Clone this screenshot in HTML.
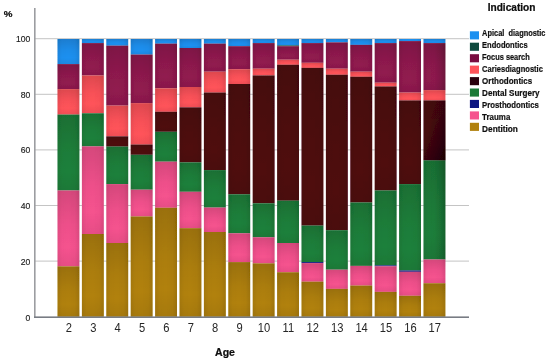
<!DOCTYPE html>
<html lang="en"><head><meta charset="utf-8"><title>Indication by age</title>
<style>
html,body{margin:0;padding:0;background:#fff;}
body{width:550px;height:361px;overflow:hidden;position:relative;font-family:"Liberation Sans",sans-serif;}
svg{position:absolute;left:0;top:0;display:block;}
text{font-family:"Liberation Sans",sans-serif;}
.yt{font-size:8.6px;fill:#1c1c1c;text-anchor:end;stroke:#1c1c1c;stroke-width:0.15px;}
.xt{font-size:12px;fill:#262626;text-anchor:middle;}
.lg{font-size:8.3px;font-weight:bold;fill:#111;stroke:#111;stroke-width:0.2px;}
.ttl{font-size:10.5px;font-weight:bold;fill:#0a0a0a;stroke:#0a0a0a;stroke-width:0.2px;}
</style></head><body>
<svg width="550" height="361" viewBox="0 0 550 361">
<defs>
<linearGradient id="sh" x1="0" y1="0" x2="1" y2="0">
<stop offset="0" stop-color="#000" stop-opacity="0.07"/>
<stop offset="0.2" stop-color="#000" stop-opacity="0.01"/>
<stop offset="0.5" stop-color="#000" stop-opacity="0"/>
<stop offset="0.8" stop-color="#000" stop-opacity="0.02"/>
<stop offset="1" stop-color="#000" stop-opacity="0.10"/>
</linearGradient>
<linearGradient id="sv" x1="0" y1="0" x2="0" y2="1">
<stop offset="0" stop-color="#000" stop-opacity="0.13"/>
<stop offset="0.45" stop-color="#000" stop-opacity="0.03"/>
<stop offset="0.75" stop-color="#000" stop-opacity="0"/>
<stop offset="1" stop-color="#000" stop-opacity="0.06"/>
</linearGradient>
<filter id="bl" x="-2%" y="-2%" width="104%" height="104%"><feGaussianBlur stdDeviation="0.35"/></filter>
<linearGradient id="sl" x1="0" y1="0" x2="1" y2="0">
<stop offset="0" stop-color="#000" stop-opacity="0"/>
<stop offset="0.5" stop-color="#000" stop-opacity="0.03"/>
<stop offset="1" stop-color="#000" stop-opacity="0.16"/>
</linearGradient>
<linearGradient id="sd" x1="0" y1="0" x2="1" y2="1">
<stop offset="0" stop-color="#000" stop-opacity="0"/>
<stop offset="0.35" stop-color="#000" stop-opacity="0.08"/>
<stop offset="1" stop-color="#000" stop-opacity="0.62"/>
</linearGradient>
</defs>
<rect width="550" height="361" fill="#fff"/>
<g filter="url(#bl)">
<rect x="34.5" y="38.2" width="434.5" height="1" fill="#c4c4c4"/>
<rect x="34.5" y="93.8" width="434.5" height="1" fill="#c4c4c4"/>
<rect x="34.5" y="149.4" width="434.5" height="1" fill="#c4c4c4"/>
<rect x="34.5" y="205.0" width="434.5" height="1" fill="#c4c4c4"/>
<rect x="34.5" y="260.6" width="434.5" height="1" fill="#c4c4c4"/>
<rect x="57.50" y="39.0" width="21.9" height="25.1" fill="#1e90f0"/>
<rect x="57.50" y="39.0" width="21.9" height="25.1" fill="url(#sv)"/>
<rect x="57.50" y="64.1" width="21.9" height="25.0" fill="#911a4f"/>
<rect x="57.50" y="64.1" width="21.9" height="25.0" fill="url(#sv)"/>
<rect x="57.50" y="89.1" width="21.9" height="25.5" fill="#ff535a"/>
<rect x="57.50" y="89.1" width="21.9" height="25.5" fill="url(#sv)"/>
<rect x="57.50" y="114.6" width="21.9" height="75.9" fill="#1d803b"/>
<rect x="57.50" y="114.6" width="21.9" height="75.9" fill="url(#sv)"/>
<rect x="57.50" y="190.5" width="21.9" height="75.9" fill="#f5528e"/>
<rect x="57.50" y="190.5" width="21.9" height="75.9" fill="url(#sv)"/>
<rect x="57.50" y="266.4" width="21.9" height="50.4" fill="#b18108"/>
<rect x="57.50" y="266.4" width="21.9" height="50.4" fill="url(#sv)"/>
<rect x="57.50" y="39.0" width="21.9" height="277.8" fill="url(#sh)"/>
<rect x="81.90" y="39.0" width="21.9" height="4.1" fill="#1e90f0"/>
<rect x="81.90" y="39.0" width="21.9" height="4.1" fill="url(#sv)"/>
<rect x="81.90" y="43.1" width="21.9" height="32.4" fill="#911a4f"/>
<rect x="81.90" y="43.1" width="21.9" height="32.4" fill="url(#sv)"/>
<rect x="81.90" y="75.5" width="21.9" height="37.8" fill="#ff535a"/>
<rect x="81.90" y="75.5" width="21.9" height="37.8" fill="url(#sv)"/>
<rect x="81.90" y="113.3" width="21.9" height="33.1" fill="#1d803b"/>
<rect x="81.90" y="113.3" width="21.9" height="33.1" fill="url(#sv)"/>
<rect x="81.90" y="146.4" width="21.9" height="87.6" fill="#f5528e"/>
<rect x="81.90" y="146.4" width="21.9" height="87.6" fill="url(#sv)"/>
<rect x="81.90" y="234.0" width="21.9" height="82.8" fill="#b18108"/>
<rect x="81.90" y="234.0" width="21.9" height="82.8" fill="url(#sv)"/>
<rect x="81.90" y="39.0" width="21.9" height="277.8" fill="url(#sh)"/>
<rect x="106.30" y="39.0" width="21.9" height="6.7" fill="#1e90f0"/>
<rect x="106.30" y="39.0" width="21.9" height="6.7" fill="url(#sv)"/>
<rect x="106.30" y="45.7" width="21.9" height="59.9" fill="#911a4f"/>
<rect x="106.30" y="45.7" width="21.9" height="59.9" fill="url(#sv)"/>
<rect x="106.30" y="105.6" width="21.9" height="30.8" fill="#ff535a"/>
<rect x="106.30" y="105.6" width="21.9" height="30.8" fill="url(#sv)"/>
<rect x="106.30" y="136.4" width="21.9" height="10.2" fill="#4f080e"/>
<rect x="106.30" y="136.4" width="21.9" height="10.2" fill="url(#sv)"/>
<rect x="106.30" y="146.6" width="21.9" height="37.5" fill="#1d803b"/>
<rect x="106.30" y="146.6" width="21.9" height="37.5" fill="url(#sv)"/>
<rect x="106.30" y="184.1" width="21.9" height="58.9" fill="#f5528e"/>
<rect x="106.30" y="184.1" width="21.9" height="58.9" fill="url(#sv)"/>
<rect x="106.30" y="243.0" width="21.9" height="73.8" fill="#b18108"/>
<rect x="106.30" y="243.0" width="21.9" height="73.8" fill="url(#sv)"/>
<rect x="106.30" y="39.0" width="21.9" height="277.8" fill="url(#sh)"/>
<rect x="130.70" y="39.0" width="21.9" height="15.6" fill="#1e90f0"/>
<rect x="130.70" y="39.0" width="21.9" height="15.6" fill="url(#sv)"/>
<rect x="130.70" y="54.6" width="21.9" height="48.5" fill="#911a4f"/>
<rect x="130.70" y="54.6" width="21.9" height="48.5" fill="url(#sv)"/>
<rect x="130.70" y="103.1" width="21.9" height="41.5" fill="#ff535a"/>
<rect x="130.70" y="103.1" width="21.9" height="41.5" fill="url(#sv)"/>
<rect x="130.70" y="144.6" width="21.9" height="10.2" fill="#4f080e"/>
<rect x="130.70" y="144.6" width="21.9" height="10.2" fill="url(#sv)"/>
<rect x="130.70" y="154.8" width="21.9" height="34.9" fill="#1d803b"/>
<rect x="130.70" y="154.8" width="21.9" height="34.9" fill="url(#sv)"/>
<rect x="130.70" y="189.7" width="21.9" height="26.8" fill="#f5528e"/>
<rect x="130.70" y="189.7" width="21.9" height="26.8" fill="url(#sv)"/>
<rect x="130.70" y="216.5" width="21.9" height="100.3" fill="#b18108"/>
<rect x="130.70" y="216.5" width="21.9" height="100.3" fill="url(#sv)"/>
<rect x="130.70" y="39.0" width="21.9" height="277.8" fill="url(#sh)"/>
<rect x="155.10" y="39.0" width="21.9" height="4.7" fill="#1e90f0"/>
<rect x="155.10" y="39.0" width="21.9" height="4.7" fill="url(#sv)"/>
<rect x="155.10" y="43.7" width="21.9" height="44.6" fill="#911a4f"/>
<rect x="155.10" y="43.7" width="21.9" height="44.6" fill="url(#sv)"/>
<rect x="155.10" y="88.3" width="21.9" height="23.5" fill="#ff535a"/>
<rect x="155.10" y="88.3" width="21.9" height="23.5" fill="url(#sv)"/>
<rect x="155.10" y="111.8" width="21.9" height="20.0" fill="#4f080e"/>
<rect x="155.10" y="111.8" width="21.9" height="20.0" fill="url(#sv)"/>
<rect x="155.10" y="131.8" width="21.9" height="29.9" fill="#1d803b"/>
<rect x="155.10" y="131.8" width="21.9" height="29.9" fill="url(#sv)"/>
<rect x="155.10" y="161.7" width="21.9" height="46.1" fill="#f5528e"/>
<rect x="155.10" y="161.7" width="21.9" height="46.1" fill="url(#sv)"/>
<rect x="155.10" y="207.8" width="21.9" height="109.0" fill="#b18108"/>
<rect x="155.10" y="207.8" width="21.9" height="109.0" fill="url(#sv)"/>
<rect x="155.10" y="39.0" width="21.9" height="277.8" fill="url(#sh)"/>
<rect x="179.50" y="39.0" width="21.9" height="9.0" fill="#1e90f0"/>
<rect x="179.50" y="39.0" width="21.9" height="9.0" fill="url(#sv)"/>
<rect x="179.50" y="48.0" width="21.9" height="39.0" fill="#911a4f"/>
<rect x="179.50" y="48.0" width="21.9" height="39.0" fill="url(#sv)"/>
<rect x="179.50" y="87.0" width="21.9" height="20.4" fill="#ff535a"/>
<rect x="179.50" y="87.0" width="21.9" height="20.4" fill="url(#sv)"/>
<rect x="179.50" y="107.4" width="21.9" height="55.0" fill="#4f080e"/>
<rect x="179.50" y="107.4" width="21.9" height="55.0" fill="url(#sv)"/>
<rect x="179.50" y="162.4" width="21.9" height="29.4" fill="#1d803b"/>
<rect x="179.50" y="162.4" width="21.9" height="29.4" fill="url(#sv)"/>
<rect x="179.50" y="191.8" width="21.9" height="36.4" fill="#f5528e"/>
<rect x="179.50" y="191.8" width="21.9" height="36.4" fill="url(#sv)"/>
<rect x="179.50" y="228.2" width="21.9" height="88.6" fill="#b18108"/>
<rect x="179.50" y="228.2" width="21.9" height="88.6" fill="url(#sv)"/>
<rect x="179.50" y="39.0" width="21.9" height="277.8" fill="url(#sh)"/>
<rect x="203.90" y="39.0" width="21.9" height="4.7" fill="#1e90f0"/>
<rect x="203.90" y="39.0" width="21.9" height="4.7" fill="url(#sv)"/>
<rect x="203.90" y="43.7" width="21.9" height="28.0" fill="#911a4f"/>
<rect x="203.90" y="43.7" width="21.9" height="28.0" fill="url(#sv)"/>
<rect x="203.90" y="71.7" width="21.9" height="20.9" fill="#ff535a"/>
<rect x="203.90" y="71.7" width="21.9" height="20.9" fill="url(#sv)"/>
<rect x="203.90" y="92.6" width="21.9" height="77.5" fill="#4f080e"/>
<rect x="203.90" y="92.6" width="21.9" height="77.5" fill="url(#sv)"/>
<rect x="203.90" y="170.1" width="21.9" height="37.5" fill="#1d803b"/>
<rect x="203.90" y="170.1" width="21.9" height="37.5" fill="url(#sv)"/>
<rect x="203.90" y="207.6" width="21.9" height="24.4" fill="#f5528e"/>
<rect x="203.90" y="207.6" width="21.9" height="24.4" fill="url(#sv)"/>
<rect x="203.90" y="232.0" width="21.9" height="84.8" fill="#b18108"/>
<rect x="203.90" y="232.0" width="21.9" height="84.8" fill="url(#sv)"/>
<rect x="203.90" y="39.0" width="21.9" height="277.8" fill="url(#sh)"/>
<rect x="228.30" y="39.0" width="21.9" height="7.2" fill="#1e90f0"/>
<rect x="228.30" y="39.0" width="21.9" height="7.2" fill="url(#sv)"/>
<rect x="228.30" y="46.2" width="21.9" height="23.0" fill="#911a4f"/>
<rect x="228.30" y="46.2" width="21.9" height="23.0" fill="url(#sv)"/>
<rect x="228.30" y="69.2" width="21.9" height="14.8" fill="#ff535a"/>
<rect x="228.30" y="69.2" width="21.9" height="14.8" fill="url(#sv)"/>
<rect x="228.30" y="84.0" width="21.9" height="110.3" fill="#4f080e"/>
<rect x="228.30" y="84.0" width="21.9" height="110.3" fill="url(#sv)"/>
<rect x="228.30" y="194.3" width="21.9" height="39.0" fill="#1d803b"/>
<rect x="228.30" y="194.3" width="21.9" height="39.0" fill="url(#sv)"/>
<rect x="228.30" y="233.3" width="21.9" height="28.8" fill="#f5528e"/>
<rect x="228.30" y="233.3" width="21.9" height="28.8" fill="url(#sv)"/>
<rect x="228.30" y="262.1" width="21.9" height="54.7" fill="#b18108"/>
<rect x="228.30" y="262.1" width="21.9" height="54.7" fill="url(#sv)"/>
<rect x="228.30" y="39.0" width="21.9" height="277.8" fill="url(#sh)"/>
<rect x="252.70" y="39.0" width="21.9" height="4.1" fill="#1e90f0"/>
<rect x="252.70" y="39.0" width="21.9" height="4.1" fill="url(#sv)"/>
<rect x="252.70" y="43.1" width="21.9" height="25.6" fill="#911a4f"/>
<rect x="252.70" y="43.1" width="21.9" height="25.6" fill="url(#sv)"/>
<rect x="252.70" y="68.7" width="21.9" height="6.8" fill="#ff535a"/>
<rect x="252.70" y="68.7" width="21.9" height="6.8" fill="url(#sv)"/>
<rect x="252.70" y="75.5" width="21.9" height="127.8" fill="#4f080e"/>
<rect x="252.70" y="75.5" width="21.9" height="127.8" fill="url(#sv)"/>
<rect x="252.70" y="203.3" width="21.9" height="34.0" fill="#1d803b"/>
<rect x="252.70" y="203.3" width="21.9" height="34.0" fill="url(#sv)"/>
<rect x="252.70" y="237.3" width="21.9" height="26.1" fill="#f5528e"/>
<rect x="252.70" y="237.3" width="21.9" height="26.1" fill="url(#sv)"/>
<rect x="252.70" y="263.4" width="21.9" height="53.4" fill="#b18108"/>
<rect x="252.70" y="263.4" width="21.9" height="53.4" fill="url(#sv)"/>
<rect x="252.70" y="39.0" width="21.9" height="277.8" fill="url(#sh)"/>
<rect x="277.10" y="39.0" width="21.9" height="6.4" fill="#1e90f0"/>
<rect x="277.10" y="39.0" width="21.9" height="6.4" fill="url(#sv)"/>
<rect x="277.10" y="45.4" width="21.9" height="0.8" fill="#0b4d40"/>
<rect x="277.10" y="46.2" width="21.9" height="13.5" fill="#911a4f"/>
<rect x="277.10" y="46.2" width="21.9" height="13.5" fill="url(#sv)"/>
<rect x="277.10" y="59.7" width="21.9" height="5.1" fill="#ff535a"/>
<rect x="277.10" y="59.7" width="21.9" height="5.1" fill="url(#sv)"/>
<rect x="277.10" y="64.8" width="21.9" height="135.9" fill="#4f080e"/>
<rect x="277.10" y="64.8" width="21.9" height="135.9" fill="url(#sv)"/>
<rect x="277.10" y="200.7" width="21.9" height="42.3" fill="#1d803b"/>
<rect x="277.10" y="200.7" width="21.9" height="42.3" fill="url(#sv)"/>
<rect x="277.10" y="243.0" width="21.9" height="29.3" fill="#f5528e"/>
<rect x="277.10" y="243.0" width="21.9" height="29.3" fill="url(#sv)"/>
<rect x="277.10" y="272.3" width="21.9" height="44.5" fill="#b18108"/>
<rect x="277.10" y="272.3" width="21.9" height="44.5" fill="url(#sv)"/>
<rect x="277.10" y="39.0" width="21.9" height="277.8" fill="url(#sh)"/>
<rect x="301.50" y="39.0" width="21.9" height="4.1" fill="#1e90f0"/>
<rect x="301.50" y="39.0" width="21.9" height="4.1" fill="url(#sv)"/>
<rect x="301.50" y="43.1" width="21.9" height="19.7" fill="#911a4f"/>
<rect x="301.50" y="43.1" width="21.9" height="19.7" fill="url(#sv)"/>
<rect x="301.50" y="62.8" width="21.9" height="5.1" fill="#ff535a"/>
<rect x="301.50" y="62.8" width="21.9" height="5.1" fill="url(#sv)"/>
<rect x="301.50" y="67.9" width="21.9" height="157.7" fill="#4f080e"/>
<rect x="301.50" y="67.9" width="21.9" height="157.7" fill="url(#sv)"/>
<rect x="301.50" y="225.6" width="21.9" height="36.5" fill="#1d803b"/>
<rect x="301.50" y="225.6" width="21.9" height="36.5" fill="url(#sv)"/>
<rect x="301.50" y="262.1" width="21.9" height="1.0" fill="#0a1580"/>
<rect x="301.50" y="263.1" width="21.9" height="18.6" fill="#f5528e"/>
<rect x="301.50" y="263.1" width="21.9" height="18.6" fill="url(#sv)"/>
<rect x="301.50" y="281.7" width="21.9" height="35.1" fill="#b18108"/>
<rect x="301.50" y="281.7" width="21.9" height="35.1" fill="url(#sv)"/>
<rect x="301.50" y="39.0" width="21.9" height="277.8" fill="url(#sh)"/>
<rect x="325.90" y="39.0" width="21.9" height="3.4" fill="#1e90f0"/>
<rect x="325.90" y="39.0" width="21.9" height="3.4" fill="url(#sv)"/>
<rect x="325.90" y="42.4" width="21.9" height="26.3" fill="#911a4f"/>
<rect x="325.90" y="42.4" width="21.9" height="26.3" fill="url(#sv)"/>
<rect x="325.90" y="68.7" width="21.9" height="6.1" fill="#ff535a"/>
<rect x="325.90" y="68.7" width="21.9" height="6.1" fill="url(#sv)"/>
<rect x="325.90" y="74.8" width="21.9" height="155.4" fill="#4f080e"/>
<rect x="325.90" y="74.8" width="21.9" height="155.4" fill="url(#sv)"/>
<rect x="325.90" y="230.2" width="21.9" height="39.5" fill="#1d803b"/>
<rect x="325.90" y="230.2" width="21.9" height="39.5" fill="url(#sv)"/>
<rect x="325.90" y="269.7" width="21.9" height="19.2" fill="#f5528e"/>
<rect x="325.90" y="269.7" width="21.9" height="19.2" fill="url(#sv)"/>
<rect x="325.90" y="288.9" width="21.9" height="27.9" fill="#b18108"/>
<rect x="325.90" y="288.9" width="21.9" height="27.9" fill="url(#sv)"/>
<rect x="325.90" y="39.0" width="21.9" height="277.8" fill="url(#sh)"/>
<rect x="350.30" y="39.0" width="21.9" height="5.9" fill="#1e90f0"/>
<rect x="350.30" y="39.0" width="21.9" height="5.9" fill="url(#sv)"/>
<rect x="350.30" y="44.9" width="21.9" height="26.8" fill="#911a4f"/>
<rect x="350.30" y="44.9" width="21.9" height="26.8" fill="url(#sv)"/>
<rect x="350.30" y="71.7" width="21.9" height="5.1" fill="#ff535a"/>
<rect x="350.30" y="71.7" width="21.9" height="5.1" fill="url(#sv)"/>
<rect x="350.30" y="76.8" width="21.9" height="125.7" fill="#4f080e"/>
<rect x="350.30" y="76.8" width="21.9" height="125.7" fill="url(#sv)"/>
<rect x="350.30" y="202.5" width="21.9" height="63.4" fill="#1d803b"/>
<rect x="350.30" y="202.5" width="21.9" height="63.4" fill="url(#sv)"/>
<rect x="350.30" y="265.9" width="21.9" height="19.7" fill="#f5528e"/>
<rect x="350.30" y="265.9" width="21.9" height="19.7" fill="url(#sv)"/>
<rect x="350.30" y="285.6" width="21.9" height="31.2" fill="#b18108"/>
<rect x="350.30" y="285.6" width="21.9" height="31.2" fill="url(#sv)"/>
<rect x="350.30" y="39.0" width="21.9" height="277.8" fill="url(#sh)"/>
<rect x="374.70" y="39.0" width="21.9" height="4.1" fill="#1e90f0"/>
<rect x="374.70" y="39.0" width="21.9" height="4.1" fill="url(#sv)"/>
<rect x="374.70" y="43.1" width="21.9" height="39.6" fill="#911a4f"/>
<rect x="374.70" y="43.1" width="21.9" height="39.6" fill="url(#sv)"/>
<rect x="374.70" y="82.7" width="21.9" height="3.8" fill="#ff535a"/>
<rect x="374.70" y="82.7" width="21.9" height="3.8" fill="url(#sv)"/>
<rect x="374.70" y="86.5" width="21.9" height="104.0" fill="#4f080e"/>
<rect x="374.70" y="86.5" width="21.9" height="104.0" fill="url(#sv)"/>
<rect x="374.70" y="190.5" width="21.9" height="74.9" fill="#1d803b"/>
<rect x="374.70" y="190.5" width="21.9" height="74.9" fill="url(#sv)"/>
<rect x="374.70" y="265.4" width="21.9" height="0.9" fill="#0a1580"/>
<rect x="374.70" y="266.3" width="21.9" height="25.6" fill="#f5528e"/>
<rect x="374.70" y="266.3" width="21.9" height="25.6" fill="url(#sv)"/>
<rect x="374.70" y="291.9" width="21.9" height="24.9" fill="#b18108"/>
<rect x="374.70" y="291.9" width="21.9" height="24.9" fill="url(#sv)"/>
<rect x="374.70" y="39.0" width="21.9" height="277.8" fill="url(#sh)"/>
<rect x="399.10" y="39.0" width="21.9" height="2.1" fill="#1e90f0"/>
<rect x="399.10" y="41.1" width="21.9" height="51.5" fill="#911a4f"/>
<rect x="399.10" y="41.1" width="21.9" height="51.5" fill="url(#sv)"/>
<rect x="399.10" y="92.6" width="21.9" height="7.9" fill="#ff535a"/>
<rect x="399.10" y="92.6" width="21.9" height="7.9" fill="url(#sv)"/>
<rect x="399.10" y="100.5" width="21.9" height="83.6" fill="#4f080e"/>
<rect x="399.10" y="100.5" width="21.9" height="83.6" fill="url(#sv)"/>
<rect x="399.10" y="184.1" width="21.9" height="86.4" fill="#1d803b"/>
<rect x="399.10" y="184.1" width="21.9" height="86.4" fill="url(#sv)"/>
<rect x="399.10" y="270.5" width="21.9" height="1.3" fill="#0a1580"/>
<rect x="399.10" y="271.8" width="21.9" height="24.0" fill="#f5528e"/>
<rect x="399.10" y="271.8" width="21.9" height="24.0" fill="url(#sv)"/>
<rect x="399.10" y="295.8" width="21.9" height="21.0" fill="#b18108"/>
<rect x="399.10" y="295.8" width="21.9" height="21.0" fill="url(#sv)"/>
<rect x="399.10" y="39.0" width="21.9" height="277.8" fill="url(#sh)"/>
<rect x="423.50" y="39.0" width="21.9" height="4.1" fill="#1e90f0"/>
<rect x="423.50" y="39.0" width="21.9" height="4.1" fill="url(#sv)"/>
<rect x="423.50" y="43.1" width="21.9" height="47.0" fill="#911a4f"/>
<rect x="423.50" y="43.1" width="21.9" height="47.0" fill="url(#sv)"/>
<rect x="423.50" y="90.1" width="21.9" height="10.4" fill="#ff535a"/>
<rect x="423.50" y="90.1" width="21.9" height="10.4" fill="url(#sv)"/>
<rect x="423.50" y="100.5" width="21.9" height="59.9" fill="#4f080e"/>
<rect x="423.50" y="100.5" width="21.9" height="59.9" fill="url(#sv)"/>
<rect x="423.50" y="160.4" width="21.9" height="99.1" fill="#1d803b"/>
<rect x="423.50" y="160.4" width="21.9" height="99.1" fill="url(#sv)"/>
<rect x="423.50" y="259.5" width="21.9" height="23.8" fill="#f5528e"/>
<rect x="423.50" y="259.5" width="21.9" height="23.8" fill="url(#sv)"/>
<rect x="423.50" y="283.3" width="21.9" height="33.5" fill="#b18108"/>
<rect x="423.50" y="283.3" width="21.9" height="33.5" fill="url(#sv)"/>
<rect x="423.50" y="39.0" width="21.9" height="277.8" fill="url(#sh)"/>
<rect x="423.50" y="43.1" width="21.9" height="47.0" fill="url(#sl)"/>
<rect x="423.50" y="100.5" width="21.9" height="59.9" fill="url(#sd)"/>
<rect x="423.50" y="160.4" width="21.9" height="99.1" fill="url(#sl)"/>
<rect x="34" y="8" width="1.6" height="310.0" fill="#9c9da1"/>
<rect x="34" y="316.4" width="435" height="1.6" fill="#787c84"/>
<rect x="469.9" y="31.3" width="9.1" height="8.1" fill="#1e90f0"/>
<rect x="469.9" y="42.7" width="9.1" height="8.1" fill="#094a3e"/>
<rect x="469.9" y="54.2" width="9.1" height="8.1" fill="#7a1040"/>
<rect x="469.9" y="65.6" width="9.1" height="8.1" fill="#ff535a"/>
<rect x="469.9" y="77.1" width="9.1" height="8.1" fill="#2c0408"/>
<rect x="469.9" y="88.5" width="9.1" height="8.1" fill="#1b7a38"/>
<rect x="469.9" y="99.9" width="9.1" height="8.1" fill="#0a1580"/>
<rect x="469.9" y="111.4" width="9.1" height="8.1" fill="#f5528e"/>
<rect x="469.9" y="122.8" width="9.1" height="8.1" fill="#b18108"/>
</g>
<g filter="url(#bl)">
<text class="yt" x="30.4" y="42.1">100</text>
<text class="yt" x="30.4" y="97.7">80</text>
<text class="yt" x="30.4" y="153.3">60</text>
<text class="yt" x="30.4" y="208.9">40</text>
<text class="yt" x="30.4" y="264.5">20</text>
<text class="yt" x="30.4" y="320.8">0</text>
<text class="ttl" x="3.8" y="17.3" style="font-size:9.8px">%</text>
<text class="xt" transform="translate(68.9,331.7) scale(0.93,1)">2</text>
<text class="xt" transform="translate(93.3,331.7) scale(0.93,1)">3</text>
<text class="xt" transform="translate(117.7,331.7) scale(0.93,1)">4</text>
<text class="xt" transform="translate(142.0,331.7) scale(0.93,1)">5</text>
<text class="xt" transform="translate(166.4,331.7) scale(0.93,1)">6</text>
<text class="xt" transform="translate(190.8,331.7) scale(0.93,1)">7</text>
<text class="xt" transform="translate(215.2,331.7) scale(0.93,1)">8</text>
<text class="xt" transform="translate(239.6,331.7) scale(0.93,1)">9</text>
<text class="xt" transform="translate(264.0,331.7) scale(0.93,1)">10</text>
<text class="xt" transform="translate(288.4,331.7) scale(0.93,1)">11</text>
<text class="xt" transform="translate(312.8,331.7) scale(0.93,1)">12</text>
<text class="xt" transform="translate(337.2,331.7) scale(0.93,1)">13</text>
<text class="xt" transform="translate(361.6,331.7) scale(0.93,1)">14</text>
<text class="xt" transform="translate(386.0,331.7) scale(0.93,1)">15</text>
<text class="xt" transform="translate(410.4,331.7) scale(0.93,1)">16</text>
<text class="xt" transform="translate(434.8,331.7) scale(0.93,1)">17</text>
<text class="ttl" x="215.1" y="356.0" style="font-size:10px" textLength="19.9" lengthAdjust="spacingAndGlyphs">Age</text>
<text class="ttl" x="487.7" y="10.9" style="font-size:10.2px" textLength="47.8" lengthAdjust="spacingAndGlyphs">Indication</text>
<text class="lg" x="482.1" y="36.1" textLength="63.4" lengthAdjust="spacingAndGlyphs" xml:space="preserve">Apical  diagnostic</text>
<text class="lg" x="482.1" y="48.0" textLength="45.6" lengthAdjust="spacingAndGlyphs" xml:space="preserve">Endodontics</text>
<text class="lg" x="482.1" y="59.9" textLength="47.6" lengthAdjust="spacingAndGlyphs" xml:space="preserve">Focus search</text>
<text class="lg" x="482.1" y="71.9" textLength="60.8" lengthAdjust="spacingAndGlyphs" xml:space="preserve">Cariesdiagnostic</text>
<text class="lg" x="482.1" y="83.8" textLength="50.1" lengthAdjust="spacingAndGlyphs" xml:space="preserve">Orthodontics</text>
<text class="lg" x="482.1" y="95.7" textLength="57.5" lengthAdjust="spacingAndGlyphs" xml:space="preserve">Dental Surgery</text>
<text class="lg" x="482.1" y="107.6" textLength="56.8" lengthAdjust="spacingAndGlyphs" xml:space="preserve">Prosthodontics</text>
<text class="lg" x="482.1" y="119.5" textLength="28.2" lengthAdjust="spacingAndGlyphs" xml:space="preserve">Trauma</text>
<text class="lg" x="482.1" y="131.5" textLength="35.7" lengthAdjust="spacingAndGlyphs" xml:space="preserve">Dentition</text>
</g>
</svg></body></html>
